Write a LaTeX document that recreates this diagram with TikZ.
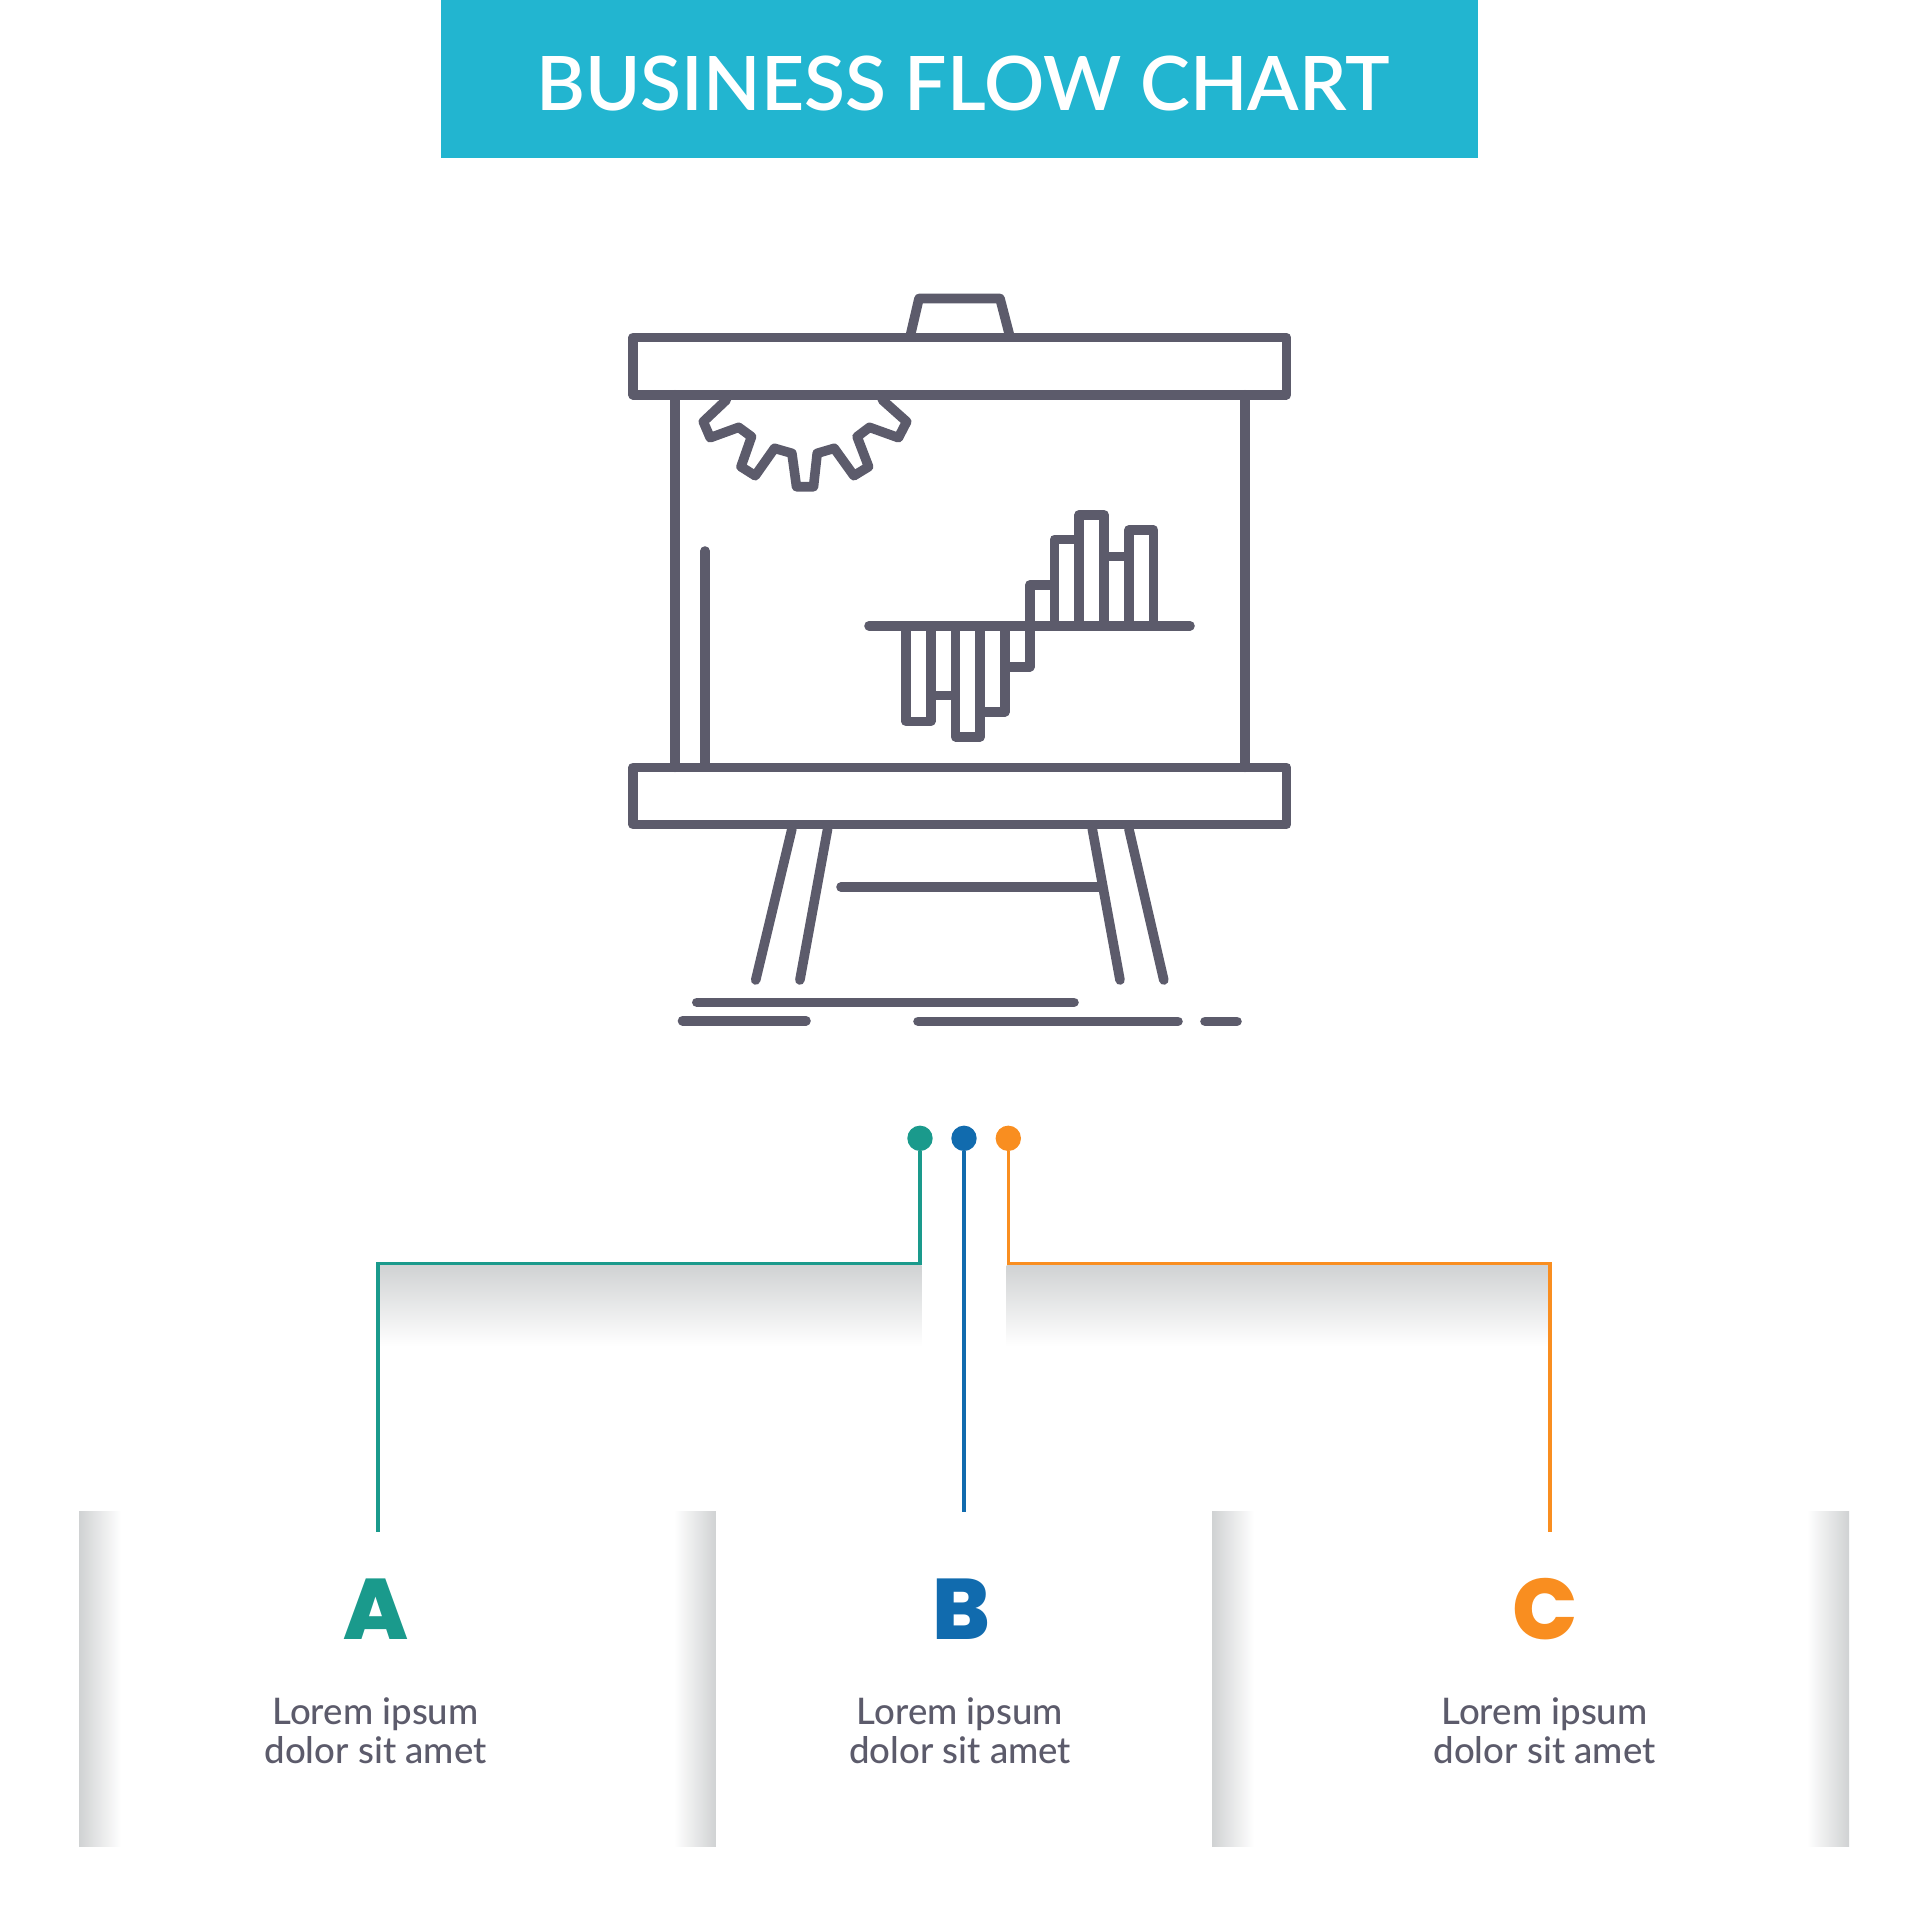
\documentclass[tikz,border=0pt]{standalone}
\usepackage{fontspec}
\setmainfont{Lato}[UprightFont=* Medium]
\newfontfamily\headfont{Lato}[UprightFont=* Semibold]
\newfontfamily\heavyfont{Poppins}[UprightFont=* ExtraBold]
\definecolor{iconcol}{HTML}{5C5B6B}
\definecolor{headcol}{HTML}{22B5D0}
\definecolor{shadecol}{HTML}{D0D2D3}
\definecolor{tealcol}{HTML}{1A9A8C}
\definecolor{bluecol}{HTML}{116BAE}
\definecolor{orangecol}{HTML}{F98E20}
\begin{document}
\begin{tikzpicture}[x=1pt,y=-1pt,
        icon/.style={line width=9.6pt,draw=iconcol,line join=round,line cap=round},
        dot/.style={circle,inner sep=0pt,minimum size=25.4pt},
        link/.style={line width=3.3pt},
        letter/.style={font=\heavyfont\fontsize{86}{86}\selectfont,anchor=base},
        caption/.style={font=\fontsize{36.6}{39}\selectfont,text=iconcol,align=center,anchor=base}]
        \useasboundingbox (0, 0) rectangle (1920, 1920);

        % Header
        \fill[headcol] (441, 0) rectangle (1478, 158);
        \node[text=white,font=\headfont\fontsize{75}{76}\selectfont,anchor=base] (title) at (963, 110) {BUSINESS FLOW CHART};

        % Board
        \draw[icon] (675, 394.7) -- (675, 767.3);
        \draw[icon] (1245, 394.7) -- (1245, 767.3);
        \draw[icon] (633, 337.5) rectangle (1286.5, 394.7);
        \draw[icon] (633, 767.3) rectangle (1286.5, 824.4);
        \draw[icon] (910, 337) -- (919, 298.5) -- (1000, 298.5) -- (1010, 337);

        % Gear
        \draw[icon] (726.3, 400) -- (703.3, 421.7) -- (710.2, 437.7) -- (738.7, 427.3)
                   -- (751.5, 436.7) -- (741, 466.7) -- (755.2, 475.7) -- (774.5, 448.3)
                   -- (791.9, 453.3) -- (796.5, 486.7) -- (813.5, 486.7) -- (817.2, 453.3)
                   -- (834.2, 448.3) -- (853.9, 475.7) -- (868.6, 466.7) -- (857.1, 436.7)
                   -- (869.5, 427.3) -- (898.4, 437.7) -- (906.7, 421.7) -- (882.4, 400);

        % Side line
        \draw[icon] (705, 551) -- (705, 767);

        % Bars
        \draw[icon] (906, 625.7) rectangle (930.75, 721.3);
        \draw[icon] (930.75, 625.7) rectangle (955.5, 695.3);
        \draw[icon] (955.5, 625.7) rectangle (980.25, 736.7);
        \draw[icon] (980.25, 625.7) rectangle (1005, 711.7);
        \draw[icon] (1005, 625.7) rectangle (1029.75, 666.7);
        \draw[icon] (1029.75, 625.7) rectangle (1054.5, 585);
        \draw[icon] (1054.5, 625.7) rectangle (1079.25, 539.3);
        \draw[icon] (1079.25, 625.7) rectangle (1104, 514.7);
        \draw[icon] (1104, 625.7) rectangle (1128.75, 556.3);
        \draw[icon] (1128.75, 625.7) rectangle (1153.5, 530);
        \draw[icon] (869, 625.7) -- (1190, 625.7);

        % Legs
        \draw[icon] (791.9, 829) -- (755.7, 980);
        \draw[icon] (827.6, 829) -- (799.9, 980);
        \draw[icon] (1092.3, 829) -- (1120, 980);
        \draw[icon] (1128.9, 829) -- (1163.8, 980);
        \draw[icon] (841, 887) -- (1098.6, 887);

        % Ground
        \draw[icon] (696.8, 1002.3) -- (1074, 1002.3);
        \draw[icon] (682.5, 1020.7) -- (806, 1020.7);
        \draw[icon] (918, 1021.3) -- (1178, 1021.3);
        \draw[icon] (1205, 1021.3) -- (1237, 1021.3);

        % Shades
        \shade[top color=shadecol,bottom color=white] (379, 1265) rectangle (921.7, 1346);
        \shade[top color=shadecol,bottom color=white] (1006.5, 1265) rectangle (1550, 1346);
        \shade[left color=shadecol,right color=white] (79.2, 1511.3) rectangle (121, 1846);
        \shade[left color=white,right color=shadecol] (674, 1511.3) rectangle (715.8, 1846);
        \shade[left color=shadecol,right color=white] (1212, 1511.3) rectangle (1254, 1846);
        \shade[left color=white,right color=shadecol] (1807, 1511.3) rectangle (1849, 1846);

        % Dots
        \node[dot,fill=tealcol] (dotA) at (920, 1138.3) {};
        \node[dot,fill=bluecol] (dotB) at (964, 1138.3) {};
        \node[dot,fill=orangecol] (dotC) at (1008.3, 1138.3) {};

        % Connectors
        \coordinate (cornerA) at (378, 1263.5);
        \coordinate (endA) at (378, 1531.7);
        \coordinate (endB) at (964, 1511.7);
        \coordinate (cornerC) at (1550, 1263.5);
        \coordinate (endC) at (1550, 1531.7);
        \draw[link,draw=tealcol] (dotA) |- (cornerA) -- (endA);
        \draw[link,draw=bluecol] (dotB) -- (endB);
        \draw[link,draw=orangecol] (dotC) |- (cornerC) -- (endC);

        % Letters
        \node[letter,text=tealcol] (letterA) at (375.6, 1639.7) {A};
        \node[letter,text=bluecol] (letterB) at (961, 1639.7) {B};
        \node[letter,text=orangecol] (letterC) at (1545, 1639.7) {C};

        % Captions
        \node[caption] (textA) at (375.5, 1763) {Lorem ipsum\\dolor sit amet};
        \node[caption] (textB) at (960, 1763) {Lorem ipsum\\dolor sit amet};
        \node[caption] (textC) at (1544.5, 1763) {Lorem ipsum\\dolor sit amet};
\end{tikzpicture}
\end{document}
